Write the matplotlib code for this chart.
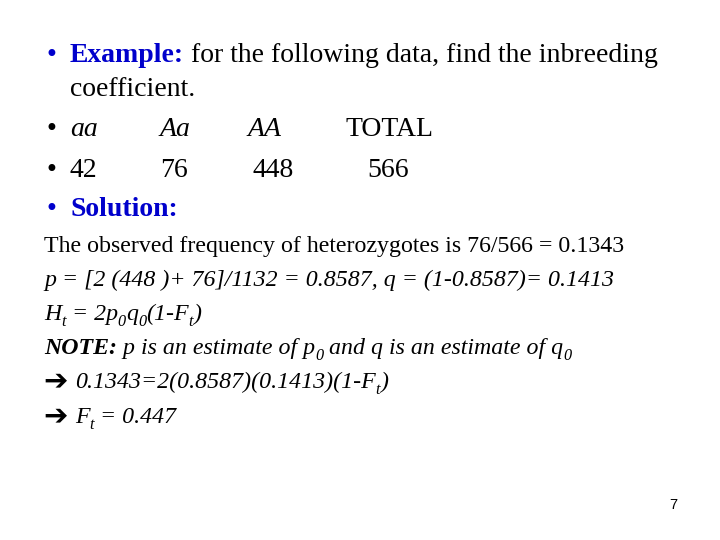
import matplotlib
matplotlib.use("Agg")
import matplotlib.pyplot as plt

# ---- data ----
genotypes = ["aa", "Aa", "AA", "TOTAL"]
counts = ["42", "76", "448", "566"]
page_number = "7"

W, H = 720, 540
fig = plt.figure(figsize=(7.2, 5.4), dpi=100)
fig.patch.set_facecolor("white")
fig.canvas.draw()
renderer = fig.canvas.get_renderer()

FAM = "Liberation Serif"
BLUE = "#0000CC"
BIG = 20
SMALL = 17.2


def put(x, y, s, size, **kw):
    t = fig.text(x / W, 1 - y / H, s, fontsize=size, va="baseline", ha="left",
                 family=kw.pop("family", FAM), **kw)
    return t.get_window_extent(renderer).width


def run(x, y, segs, size):
    for seg in segs:
        s = seg[0]
        kw = dict(seg[1]) if len(seg) > 1 else {}
        sub = kw.pop("sub", False)
        if sub:
            w = put(x, y + size * 0.35, s, size * 0.68, **kw)
        else:
            w = put(x, y, s, size, **kw)
        x += w
    return x


def bullet(y, size=BIG, color="black"):
    put(44, y, "\u2022", size * 0.85, color=color, family="DejaVu Sans")


it = {"style": "italic"}
bi = {"style": "italic", "weight": "bold"}
bb = {"weight": "bold", "color": BLUE}

# Example line
bullet(62, color=BLUE)
run(70, 62, [("Example:", bb), (" for the following data, find the inbreeding",)], BIG)
run(70, 96, [("coefficient.",)], BIG)

# table header
bullet(136)
hx = [70, 160, 248, 345]
for x, g in zip(hx, genotypes):
    put(x, 136, g, BIG, style=("normal" if g == "TOTAL" else "italic"))

bullet(177)
vx = [70, 160, 253, 367]
for x, c in zip(vx, counts):
    put(x, 177, c, BIG)

bullet(216, color=BLUE)
run(70, 216, [("Solution:", bb)], BIG)

# solution lines
run(44, 252, [("The observed frequency of heterozygotes is 76/566 = 0.1343",)], SMALL)
run(44, 286, [("p = [2 (448 )+ 76]/1132 = 0.8587, q = (1-0.8587)= 0.1413", it)], SMALL)
run(44, 320, [("H", it), ("t", {"style": "italic", "sub": True}), (" = 2p", it),
              ("0", {"style": "italic", "sub": True}), ("q", it),
              ("0", {"style": "italic", "sub": True}), ("(1-F", it),
              ("t", {"style": "italic", "sub": True}), (")", it)], SMALL)
run(44, 354, [("NOTE:", bi), (" p is an estimate of p", it),
              ("0", {"style": "italic", "sub": True}),
              (" and q is an estimate of q", it),
              ("0", {"style": "italic", "sub": True})], SMALL)
put(43, 389, "\u2794", 21, family="DejaVu Sans", weight="bold")
run(75, 388, [("0.1343=2(0.8587)(0.1413)(1-F", it),
              ("t", {"style": "italic", "sub": True}), (")", it)], SMALL)
put(43, 424, "\u2794", 21, family="DejaVu Sans", weight="bold")
run(75, 423, [("F", it), ("t", {"style": "italic", "sub": True}), (" = 0.447", it)], SMALL)

put(669, 509, page_number, 10.5, family="Liberation Sans")

fig.savefig("out.png", dpi=100, facecolor="white")
